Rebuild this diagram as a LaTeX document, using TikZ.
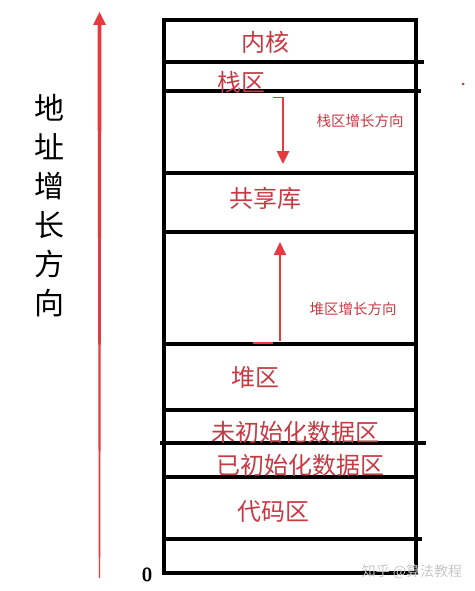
\documentclass[tikz,border=0pt]{standalone}
\usepackage{fontspec}
\newfontfamily\cjk{Noto Sans CJK SC}
\usetikzlibrary{arrows.meta}
\definecolor{lblred}{HTML}{C63A44}
\definecolor{arrred}{HTML}{E63A3F}
\begin{document}
\begin{tikzpicture}[x=1pt,y=-1pt,
  wall/.style={line width=3.5pt,black},
  bigtext/.style={text=lblred,font=\cjk\fontsize{24}{24}\selectfont,inner sep=0pt},
  smalltext/.style={text=lblred,font=\cjk\fontsize{14.5}{14.5}\selectfont,inner sep=0pt},
  growarrow/.style={arrred,line width=2.5pt,-{Triangle[length=13pt,width=12pt]}},
  ]
\useasboundingbox (0,0) rectangle (474,591);
% memory box
\draw[wall] (164,20) rectangle (416,573);
\draw[wall] (164,62) -- (424,62);
\draw[wall] (162,91) -- (421,91);
\draw[wall] (164,173) -- (416,173);
\draw[wall] (164,232) -- (416,232);
\draw[wall] (164,344) -- (418,344);
\draw[wall] (164,410) -- (416,410);
\draw[wall] (160,443) -- (426,443);
\draw[wall] (164,477) -- (416,477);
\draw[wall] (164,539) -- (422,539);
% region labels
\node[bigtext] (kernel) at (265,42) {内核};
\node[bigtext] (stack) at (241,82) {栈区};
\node[bigtext] (shared) at (265,198) {共享库};
\node[bigtext] (heap) at (255,377) {堆区};
\node[bigtext] (bss) at (295,432) {未初始化数据区};
\node[bigtext] (data) at (300,465) {已初始化数据区};
\node[bigtext] (text) at (273,512) {代码区};
\node[smalltext] (stackdir) at (360,121) {栈区增长方向};
\node[smalltext] (heapdir) at (353,309) {堆区增长方向};
% stack growth arrow
\coordinate (s0) at (273,97.5);
\coordinate (s1) at (283,97.5);
\coordinate (s2) at (283,164);
\draw[arrred,line width=1.2pt] (s0) -- (s1);
\draw[growarrow] (s1) -- (s2);
% heap growth arrow
\coordinate (h0) at (253,342.5);
\coordinate (h1) at (273,342.5);
\coordinate (h2) at (280,341);
\coordinate (h3) at (280,242);
\draw[arrred,line width=2pt] (h0) -- (h1);
\draw[growarrow,line width=2pt] (h2) -- (h3);
% address growth arrow (tapered)
\coordinate (a0) at (99.5,578);
\coordinate (a1) at (99.5,12);
\fill[arrred] (98.8,578) -- (97.5,25) -- (93,25) -- (a1) -- (106,25) -- (101.5,25) -- (100.2,578) -- cycle;
\node[font=\cjk\fontsize{30}{39}\selectfont,align=center,inner sep=0pt] (addr) at (49,206) {地\\址\\增\\长\\方\\向};
\node[font=\sffamily\bfseries\fontsize{19}{19}\selectfont,inner sep=0pt] (zero) at (147,575) {0};
% small dot and watermark
\fill[lblred] (463,84) circle (1.5);
\node[font=\cjk\fontsize{14}{14}\selectfont,text=black!22,inner sep=0pt] (wm) at (412,572) {知乎 @算法教程};
\end{tikzpicture}
\end{document}
